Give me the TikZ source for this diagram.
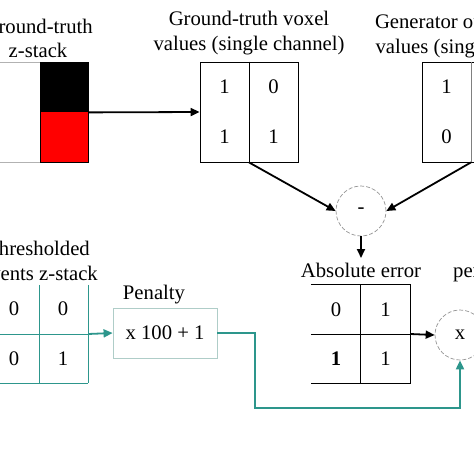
\documentclass[tikz,border=0pt]{standalone}
\usepackage{fontspec}
\setmainfont{Liberation Serif}
\usetikzlibrary{arrows.meta}
\definecolor{tealline}{RGB}{45,150,140}
\definecolor{lightteal}{RGB}{175,205,200}
\definecolor{circgray}{RGB}{150,150,150}
\begin{document}
\begin{tikzpicture}[x=1pt,y=-1pt,
  txt/.style={inner sep=0pt, font=\fontsize{20.7}{25}\selectfont},
  digit/.style={txt},
  boxline/.style={draw=black, line width=0.8pt},
  cellbox/.style={draw=black, line width=0.8pt, minimum width=98pt, minimum height=100pt, inner sep=0pt},
  arr/.style={line width=1.8pt, -{Triangle[length=9pt,width=8pt]}},
  tarr/.style={draw=tealline, line width=1.8pt, -{Triangle[length=9pt,width=8pt]}},
  opcirc/.style={circle, draw=circgray, dash pattern=on 4pt off 2pt, line width=0.7pt, minimum size=50pt, inner sep=0pt, font=\fontsize{20.7}{25}\selectfont},
  tline/.style={draw=tealline, line width=0.7pt}]
\useasboundingbox (0,0) rectangle (474,474);
\clip (0,0) rectangle (474,474);
\fill[white] (0,0) rectangle (474,474);

% ground-truth z-stack
\draw[draw=gray!60, line width=0.6pt] (-10,62) rectangle (40,162);
\node[fill=black, minimum width=48pt, minimum height=50pt, inner sep=0pt, anchor=north west] (zblack) at (40,62) {};
\node[fill=red, minimum width=48pt, minimum height=50pt, inner sep=0pt, anchor=north west] (zred) at (40,112) {};
\draw[boxline, line width=0.6pt] (zblack.north west) rectangle (zred.south east);
\node[txt, anchor=base east] (zt1) at (93,33) {Ground-truth};
\node[txt, anchor=base] (zt2) at (38,57) {z-stack};

% ground-truth voxel values
\node[cellbox] (gt) at (249,112) {};
\draw[boxline] (gt.north) -- (gt.south);
\node[txt, anchor=base] (gtt1) at (249,25) {Ground-truth voxel};
\node[txt, anchor=base] (gtt2) at (249,50) {values (single channel)};
\node[digit] (g11) at (224.5,87) {1};
\node[digit] (g12) at (273.5,87) {0};
\node[digit] (g21) at (224.5,137) {1};
\node[digit] (g22) at (273.5,137) {1};

% generator output values
\node[cellbox] (gen) at (471,112) {};
\draw[boxline, draw=gray] (gen.north) -- (gen.south);
\node[txt, anchor=base] (gent1) at (471,28) {Generator output voxel};
\node[txt, anchor=base] (gent2) at (471,53) {values (single channel)};
\node[digit] (n11) at (446.5,87) {1};
\node[digit] (n21) at (446.5,137) {0};

\draw[arr] (zblack.south east) -- (gt.west);

% subtraction
\node[opcirc] (minus) at (361,211) {-};
\draw[arr] (gt.south) -- (minus.west);
\draw[arr] (gen.south) -- (minus.east);
\coordinate (abstop) at (361,258);
\draw[arr] (minus.south) -- (abstop);

% absolute error table
\node[txt, anchor=base] (absl) at (361,277) {Absolute error};
\node[minimum width=99pt, minimum height=98pt, inner sep=0pt] (abs) at (360.5,334) {};
\draw[boxline] (abs.north west) -- (abs.north east) -- (abs.south east) -- (abs.south west);
\draw[boxline] (abs.west) -- (abs.east);
\draw[boxline] (abs.north) -- (abs.south);
\node[digit] (a11) at (336,309.5) {0};
\node[digit] (a12) at (385.5,309.5) {1};
\node[digit] (a21) at (336,358.5) {\textbf{1}};
\node[digit] (a22) at (385.5,358.5) {1};

% multiplication
\node[opcirc] (mult) at (460,335) {x};
\draw[arr] (abs.east) -- (mult.west);
\node[txt, anchor=base west] (pel) at (453,277) {penalized error};

% thresholded table
\node[txt, anchor=base east] (tt1) at (90,255) {Thresholded};
\node[txt, anchor=base east] (tt2) at (98,280) {events z-stack};
\node[minimum width=97pt, minimum height=98pt, inner sep=0pt] (thr) at (39.5,334) {};
\draw[tline] (thr.west) -- (thr.east);
\draw[tline] (thr.south west) -- (thr.south east);
\draw[tline] (thr.north) -- (thr.south);
\draw[tline] (thr.north east) -- (thr.south east);
\node[digit] (t11) at (14,309) {0};
\node[digit] (t12) at (63,309) {0};
\node[digit] (t21) at (14,359) {0};
\node[digit] (t22) at (63,359) {1};

% penalty
\node[txt, anchor=base] (penl) at (154,299) {Penalty};
\node[draw=lightteal, line width=0.8pt, minimum width=104pt, minimum height=50pt, inner sep=0pt, font=\fontsize{20.7}{25}\selectfont] (pen) at (165,333) {x 100 + 1};
\draw[tarr] (thr.east) -- (pen.west);
\coordinate (bend) at (255,408);
\draw[tarr] (pen.east) -| (bend) -| (mult.south);
\end{tikzpicture}
\end{document}
